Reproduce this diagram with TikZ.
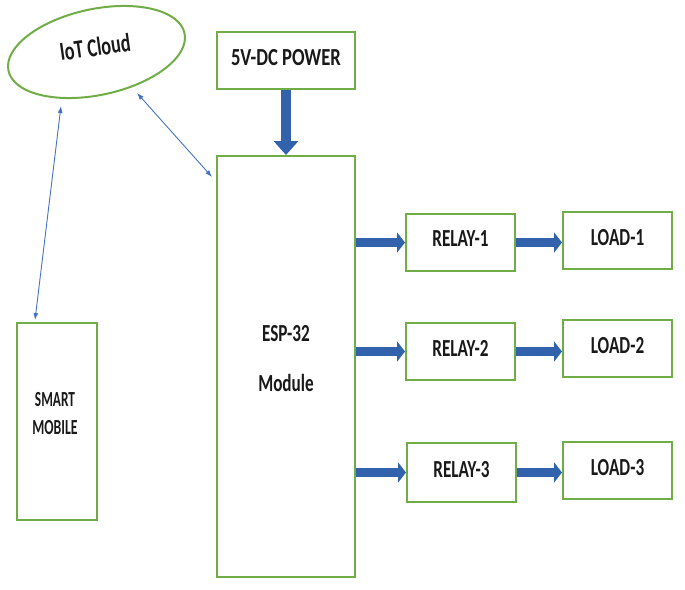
\documentclass[tikz,border=0pt]{standalone}
\usepackage{fontspec}
\setmainfont{Carlito}
\usetikzlibrary{shapes.geometric,arrows.meta,calc}
\definecolor{boxgreen}{RGB}{112,173,71}
\definecolor{fatblue}{RGB}{50,98,172}
\definecolor{thinblue}{RGB}{68,114,196}
\newcommand{\sq}[1]{\scalebox{0.7}[1]{#1}}
\tikzset{
  txt/.style={font=\fontsize{24.5}{28}\selectfont\bfseries, text=black!90},
  smalltxt/.style={font=\fontsize{21.5}{25}\selectfont\bfseries, text=black!90},
  blk/.style={draw=boxgreen, line width=2pt, fill=white, inner sep=0pt, txt, text depth=7pt},
  fat/.style={draw=fatblue, line width=9.5pt, -{Triangle[length=8pt,width=20pt]}},
  fatv/.style={draw=fatblue, line width=10pt, -{Triangle[length=14pt,width=24pt]}},
  thin/.style={draw=thinblue, line width=0.9pt, {Latex[length=7pt,width=5pt]}-{Latex[length=7pt,width=5pt]}},
}
\begin{document}
\begin{tikzpicture}[x=1pt,y=-1pt]
\useasboundingbox (0,0) rectangle (685,589);
% boxes
\node[blk, minimum width=138pt, minimum height=57pt] (power) at (286,60.5) {\scalebox{0.76}[1]{5V-DC POWER}};
\node[blk, minimum width=138pt, minimum height=421pt] (esp) at (286,366.5) {};
\node[txt] (esplbl) at (286,334) {\sq{ESP-32}};
\node[txt] (modlbl) at (286,383) {\sq{Module}};
\node[blk, minimum width=109pt, minimum height=57pt] (r1) at (460.5,242.5) {\sq{RELAY-1}};
\node[blk, minimum width=109pt, minimum height=57pt] (r2) at (460.5,351.5) {\sq{RELAY-2}};
\node[blk, minimum width=109pt, minimum height=59pt] (r3) at (461.5,472.5) {\sq{RELAY-3}};
\node[blk, minimum width=109pt, minimum height=57pt] (l1) at (617.5,240.5) {\sq{LOAD-1}};
\node[blk, minimum width=109pt, minimum height=57pt] (l2) at (617.5,348.5) {\sq{LOAD-2}};
\node[blk, minimum width=109pt, minimum height=57pt] (l3) at (617.5,470.5) {\sq{LOAD-3}};
\node[blk, minimum width=80pt, minimum height=197pt] (mob) at (57,421.5) {};
\node[smalltxt] (smart) at (55,400) {\scalebox{0.62}[1]{SMART}};
\node[smalltxt] (mobile) at (55,427.5) {\scalebox{0.64}[1]{MOBILE}};
\node[ellipse, draw=boxgreen, line width=2pt, minimum width=180pt, minimum height=86pt, rotate=12] (cloud) at (96.5,52) {};
\node[txt, font=\fontsize{26}{30}\selectfont\bfseries, rotate=8] (cloudlbl) at (95,47) {\scalebox{0.7}[1]{IoT Cloud}};
% fat arrows
\draw[fatv] (power.south) -- (esp.north);
\draw[fat] (esp.east |- r1.west) -- (r1.west);
\draw[fat] (esp.east |- r2.west) -- (r2.west);
\draw[fat] (esp.east |- r3.west) -- (r3.west);
\draw[fat] (r1.east) -- (r1.east -| l1.west);
\draw[fat] (r2.east) -- (r2.east -| l2.west);
\draw[fat] (r3.east) -- (r3.east -| l3.west);
% thin arrows
\coordinate (c1) at (137,93);
\coordinate (e1) at (212,177);
\coordinate (c2) at (61,106);
\coordinate (m1) at (35,320);
\draw[thin] (c1) -- (e1);
\draw[thin] (c2) -- (m1);
\end{tikzpicture}
\end{document}
